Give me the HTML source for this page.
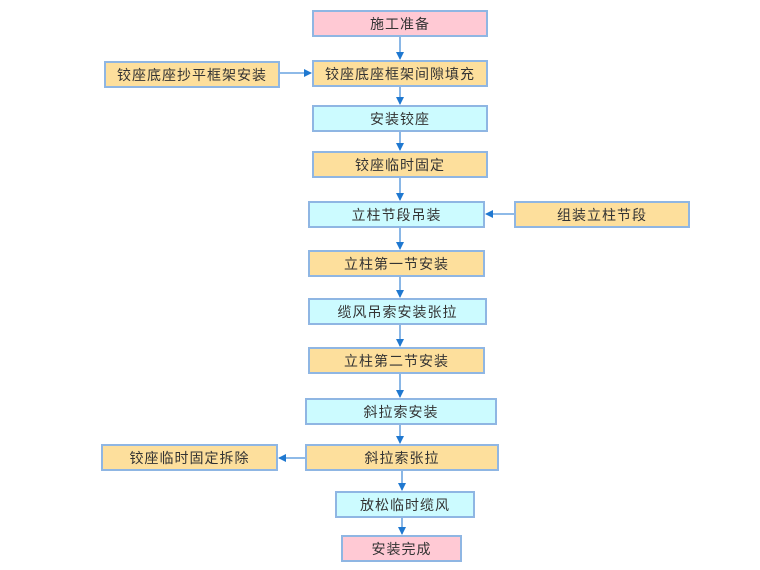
<!DOCTYPE html>
<html><head><meta charset="utf-8"><style>
body{margin:0;width:760px;height:570px;background:#fff;position:relative;overflow:hidden;font-family:"Liberation Sans","Noto Sans CJK SC",sans-serif}
.b{position:absolute;box-sizing:border-box;border:2px solid #8fb6e3;display:flex;align-items:center;justify-content:center;font-size:14px;color:#333;letter-spacing:1px}
.p{background:#ffc9d4}.y{background:#fddf9c}.c{background:#ccfbff}
svg{position:absolute;left:0;top:0}
</style></head><body>
<svg width="760" height="570">
<defs><marker id="a" markerWidth="8" markerHeight="8" refX="7" refY="4" orient="auto" markerUnits="userSpaceOnUse"><path d="M0,0L8,4L0,8z" fill="#1f78d0"/></marker></defs>
<g stroke="#4a90d9" stroke-width="1.3" fill="none" marker-end="url(#a)">
<line x1="400" y1="36" x2="400" y2="59"/>
<line x1="400" y1="86" x2="400" y2="104"/>
<line x1="400" y1="132" x2="400" y2="150"/>
<line x1="400" y1="178" x2="400" y2="200"/>
<line x1="400" y1="227" x2="400" y2="249"/>
<line x1="400" y1="276" x2="400" y2="297"/>
<line x1="400" y1="325" x2="400" y2="346"/>
<line x1="400" y1="373" x2="400" y2="397"/>
<line x1="400" y1="425" x2="400" y2="443"/>
<line x1="402" y1="471" x2="402" y2="490"/>
<line x1="402" y1="518" x2="402" y2="534"/>
<line x1="280" y1="73" x2="311" y2="73"/>
<line x1="514" y1="214" x2="486" y2="214"/>
<line x1="305" y1="458" x2="279" y2="458"/>
</g></svg>
<div class="b p" style="left:312px;top:10px;width:176px;height:27px">施工准备</div>
<div class="b y" style="left:104px;top:61px;width:176px;height:27px">铰座底座抄平框架安装</div>
<div class="b y" style="left:312px;top:60px;width:176px;height:27px">铰座底座框架间隙填充</div>
<div class="b c" style="left:312px;top:105px;width:176px;height:27px">安装铰座</div>
<div class="b y" style="left:312px;top:151px;width:176px;height:27px">铰座临时固定</div>
<div class="b c" style="left:308px;top:201px;width:177px;height:27px">立柱节段吊装</div>
<div class="b y" style="left:514px;top:201px;width:176px;height:27px">组装立柱节段</div>
<div class="b y" style="left:308px;top:250px;width:177px;height:27px">立柱第一节安装</div>
<div class="b c" style="left:308px;top:298px;width:179px;height:27px">缆风吊索安装张拉</div>
<div class="b y" style="left:308px;top:347px;width:177px;height:27px">立柱第二节安装</div>
<div class="b c" style="left:305px;top:398px;width:192px;height:27px">斜拉索安装</div>
<div class="b y" style="left:101px;top:444px;width:177px;height:27px">铰座临时固定拆除</div>
<div class="b y" style="left:305px;top:444px;width:194px;height:27px">斜拉索张拉</div>
<div class="b c" style="left:335px;top:491px;width:140px;height:27px">放松临时缆风</div>
<div class="b p" style="left:341px;top:535px;width:121px;height:27px">安装完成</div>
</body></html>
